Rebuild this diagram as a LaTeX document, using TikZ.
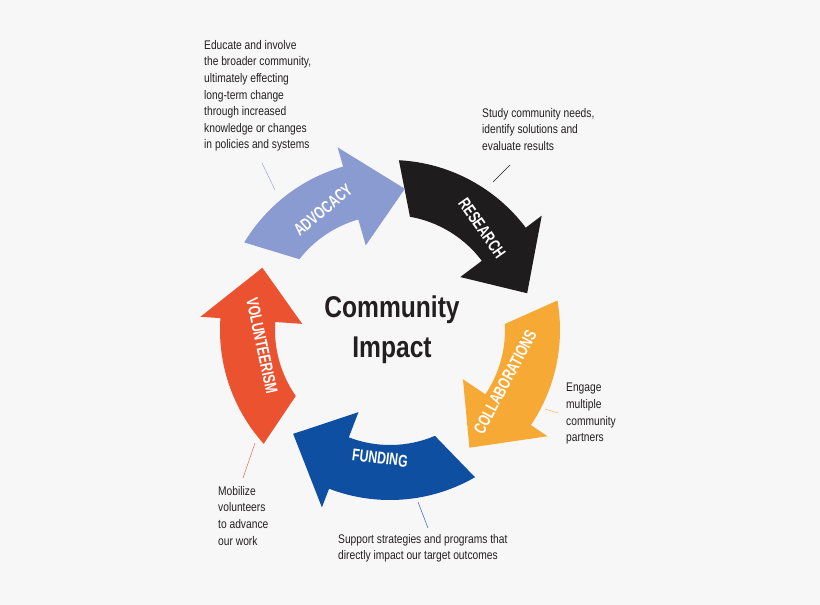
\documentclass[tikz,border=0pt]{standalone}
\usepackage{fontspec}
\setmainfont{Liberation Sans}
\newfontfamily\cond[FakeStretch=0.82]{Liberation Sans}
\newfontfamily\condb[FakeStretch=0.72]{Liberation Sans}
\definecolor{bg}{HTML}{F7F7F7}
\definecolor{cadv}{HTML}{8A9BD1}
\definecolor{cres}{HTML}{1E1C1D}
\definecolor{ccol}{HTML}{F7A936}
\definecolor{cfun}{HTML}{0E4FA1}
\definecolor{cvol}{HTML}{EA5230}
\definecolor{ink}{HTML}{231F20}
\newcommand{\cycarrow}[4]{%
  \pgfmathsetmacro{\cyA}{#2+22}\pgfmathsetmacro{\cyB}{#1-7}%
  \fill[#3] (#1:170pt) arc[start angle=#1,end angle=\cyA,radius=170pt] -- (\cyA:190pt) -- (#2:142pt) -- (\cyA:88pt) -- (\cyA:115pt) arc[start angle=\cyA,end angle=\cyB,radius=115pt] -- cycle;}
\tikzset{lbl/.style={text=white,font=\condb\bfseries\fontsize{17}{17}\selectfont},
 note/.style={align=left,anchor=north west,inner sep=0pt,text=ink,font=\cond\fontsize{12.5}{16.6}\selectfont}}
\begin{document}
\begin{tikzpicture}[x=1pt,y=1pt]
\fill[bg] (0,0) rectangle (820,-605);
\useasboundingbox (0,0) rectangle (820,-605);
\begin{scope}[shift={(390,-330)}]
\cycarrow{87}{15}{cres}{}
\cycarrow{10}{-56}{ccol}{}
\cycarrow{-60}{-133}{cfun}{}
\cycarrow{-138}{-206}{cvol}{}
\cycarrow{149}{84}{cadv}{}
\end{scope}
\node[lbl,rotate=40] (adv) at (323,-210) {ADVOCACY};
\node[lbl,rotate=-55] (res) at (482,-228) {RESEARCH};
\node[lbl,rotate=62] (col) at (505,-382) {COLLABORATIONS};
\node[lbl,rotate=-7] (fun) at (380,-458) {FUNDING};
\node[lbl,rotate=-78] (vol) at (262,-346) {VOLUNTEERISM};
\node[align=center,text=ink,font=\cond\bfseries\fontsize{30}{40}\selectfont] (ci) at (392,-330) {Community\\Impact};
\node[note] (n1) at (204,-40) {Educate and involve\\the broader community,\\ultimately effecting\\long-term change\\through increased\\knowledge or changes\\in policies and systems};
\node[note] (n2) at (482,-108) {Study community needs,\\identify solutions and\\evaluate results};
\node[note] (n3) at (566,-383) {Engage\\multiple\\community\\partners};
\node[note] (n4) at (338,-534) {Support strategies and programs that\\directly impact our target outcomes};
\node[note] (n5) at (218,-486) {Mobilize\\volunteers\\to advance\\our work};
\coordinate (a1) at (262,-163); \coordinate (a2) at (275,-190);
\coordinate (b1) at (510,-165); \coordinate (b2) at (493,-182);
\coordinate (c1) at (545,-409); \coordinate (c2) at (558,-413);
\coordinate (d1) at (418,-502); \coordinate (d2) at (428,-528);
\coordinate (e1) at (255,-443); \coordinate (e2) at (243,-478);
\draw[cadv] (a1) -- (a2);
\draw[cres] (b1) -- (b2);
\draw[ccol] (c1) -- (c2);
\draw[cfun] (d1) -- (d2);
\draw[cvol] (e1) -- (e2);
\end{tikzpicture}
\end{document}
